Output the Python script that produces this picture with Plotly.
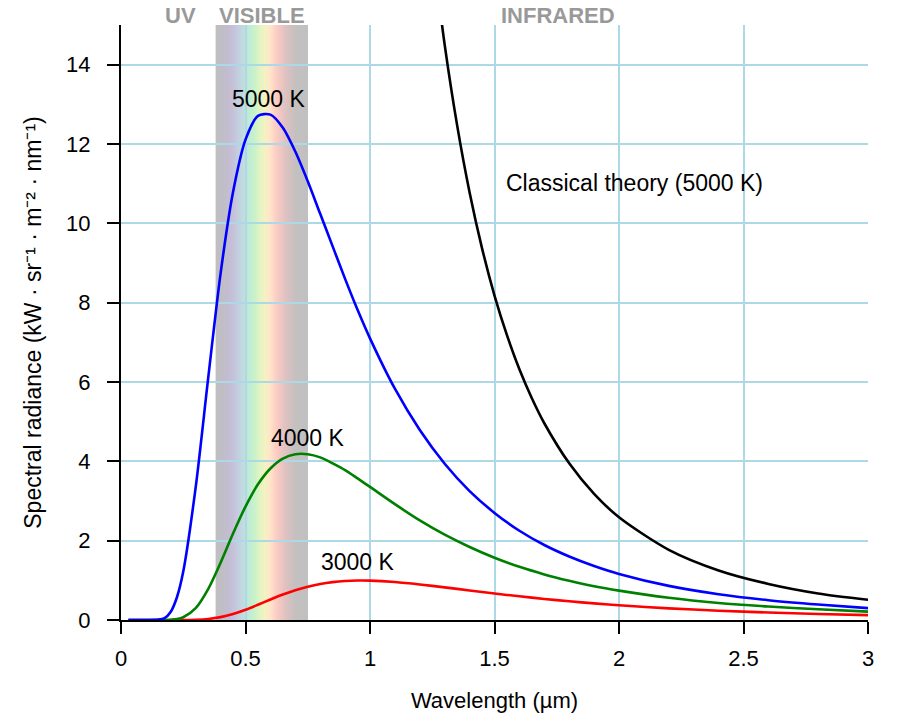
"""
Black-body spectral radiance vs wavelength, with the classical (Rayleigh-Jeans) curve
"""

import plotly.graph_objects as go

# wavelength samples (µm) shared by the three Planck curves
wavelength = [0.03, 0.1, 0.15, 0.175, 0.2, 0.225, 0.25, 0.3, 0.35, 0.4, 0.45, 0.5, 0.55, 0.6,
              0.65, 0.7, 0.75, 0.8, 0.85, 0.9, 0.95, 1.0, 1.1, 1.2, 1.3, 1.4, 1.5, 1.6, 1.7,
              1.8, 1.9, 2.0, 2.2, 2.4, 2.6, 2.8, 3.0]

# spectral radiance (kW / sr / m² / nm)
radiance_5000 = [0, 0, 0.01, 0.05, 0.21, 0.58, 1.22, 3.35, 6.09, 8.74, 10.79, 12.11, 12.71,
                 12.74, 12.41, 11.81, 11.06, 10.24, 9.42, 8.60, 7.82, 7.10, 5.83, 4.79, 3.94,
                 3.25, 2.70, 2.25, 1.89, 1.60, 1.36, 1.16, 0.86, 0.65, 0.50, 0.39, 0.30]
radiance_4000 = [0, 0, 0, 0, 0.006, 0.023, 0.069, 0.30, 0.78, 1.445, 2.18, 2.86, 3.42, 3.82,
                 4.07, 4.18, 4.18, 4.10, 3.95, 3.78, 3.57, 3.355, 2.92, 2.51, 2.15, 1.84, 1.57,
                 1.34, 1.15, 0.99, 0.85, 0.74, 0.56, 0.43, 0.34, 0.27, 0.21]
radiance_3000 = [0, 0, 0, 0, 0, 0, 0, 0.006, 0.026, 0.072, 0.152, 0.26, 0.386, 0.517, 0.642,
                 0.751, 0.839, 0.908, 0.955, 0.983, 0.995, 0.993, 0.957, 0.896, 0.823, 0.745,
                 0.668, 0.597, 0.531, 0.472, 0.419, 0.372, 0.294, 0.235, 0.188, 0.152, 0.124]

# classical theory at 5000 K (runs off the top of the plot)
wavelength_classical = [1.25, 1.3, 1.35, 1.4, 1.45, 1.5, 1.55, 1.6, 1.65, 1.7, 1.8, 1.9, 2.0,
                        2.2, 2.4, 2.6, 2.8, 3.0]
radiance_classical = [16.97, 14.50, 12.47, 10.78, 9.37, 8.18, 7.18, 6.32, 5.59, 4.96, 3.95,
                      3.18, 2.59, 1.77, 1.25, 0.91, 0.67, 0.51]

visible_band = [0.38, 0.75]
x_ticks = [0, 0.5, 1, 1.5, 2, 2.5, 3]
x_tick_text = ['0', '0.5', '1', '1.5', '2', '2.5', '3']
y_ticks = [0, 2, 4, 6, 8, 10, 12, 14]

# colour stops for the pale rainbow inside the visible band
band_stops = [
    (0.38, (191, 191, 191)),
    (0.415, (192, 190, 200)),
    (0.44, (198, 188, 216)),
    (0.48, (194, 212, 224)),
    (0.51, (192, 234, 216)),
    (0.535, (200, 242, 202)),
    (0.56, (228, 244, 194)),
    (0.58, (246, 242, 194)),
    (0.60, (255, 228, 202)),
    (0.625, (252, 204, 196)),
    (0.66, (224, 194, 192)),
    (0.70, (196, 192, 192)),
    (0.75, (192, 192, 192)),
]

FONT = 'Liberation Sans, Arial, sans-serif'


def band_colour(x):
    """colour of the visible band at wavelength x"""
    for (x0, c0), (x1, c1) in zip(band_stops[:-1], band_stops[1:]):
        if x0 <= x <= x1:
            t = (x - x0) / (x1 - x0)
            r, g, b = [round(a + (b_ - a) * t) for a, b_ in zip(c0, c1)]
            return 'rgb(%d,%d,%d)' % (r, g, b)
    return 'rgb(192,192,192)'


fig = go.Figure()

# visible band as thin overlapping slices below the gridlines
n_slices = 74
step = (visible_band[1] - visible_band[0]) / n_slices
for i in range(n_slices):
    x0 = visible_band[0] + i * step
    x1 = min(x0 + step * 3, visible_band[1])
    fig.add_shape(type='rect', xref='x', yref='y', x0=x0, x1=x1, y0=0, y1=15,
                  fillcolor=band_colour(x0 + step / 2), line_width=0, layer='below')

curves = [
    (radiance_3000, '#ff0000', '3000 K'),
    (radiance_4000, '#008000', '4000 K'),
    (radiance_5000, '#0000ff', '5000 K'),
]
for values, colour, name in curves:
    fig.add_trace(go.Scatter(x=wavelength, y=values, mode='lines', name=name,
                             line=dict(color=colour, width=2.6, shape='spline', smoothing=0.8)))

fig.add_trace(go.Scatter(x=wavelength_classical, y=radiance_classical, mode='lines',
                         name='Classical theory (5000 K)',
                         line=dict(color='black', width=2.6, shape='spline', smoothing=0.8)))

labels = [
    (0.596, 13.13, '5000 K'),
    (0.751, 4.59, '4000 K'),
    (0.952, 1.45, '3000 K'),
    (2.064, 11.01, 'Classical theory (5000 K)'),
]
for x, y, text in labels:
    fig.add_annotation(x=x, y=y, text=text, showarrow=False,
                       font=dict(family=FONT, size=23, color='black'))

for x, text in [(0.239, 'UV'), (0.565, 'VISIBLE'), (1.755, 'INFRARED')]:
    fig.add_annotation(x=x, xref='x', y=1, yref='paper', yshift=10, yanchor='middle',
                       text='<b>%s</b>' % text, showarrow=False,
                       font=dict(family=FONT, size=22, color='#999999'))

fig.update_layout(
    width=900, height=720,
    margin=dict(l=121, r=32, t=25, b=100),
    paper_bgcolor='white', plot_bgcolor='white',
    showlegend=False,
    font=dict(family=FONT, size=22, color='black'),
)
fig.update_xaxes(
    range=[0, 3], tickvals=x_ticks, ticktext=x_tick_text,
    showgrid=True, gridcolor='#add8e6', gridwidth=2, zeroline=False,
    showline=True, linecolor='black', linewidth=2,
    ticks='outside', ticklen=12, tickwidth=2, tickcolor='black', ticklabelstandoff=6,
    title=dict(text='Wavelength (µm)', standoff=22, font=dict(size=22)),
)
fig.update_yaxes(
    range=[0, 15], tickvals=y_ticks,
    showgrid=True, gridcolor='#add8e6', gridwidth=2, zeroline=False,
    showline=True, linecolor='black', linewidth=2,
    ticks='outside', ticklen=12, tickwidth=2, tickcolor='black', ticklabelstandoff=12,
    title=dict(text='Spectral radiance (kW · sr⁻¹ · m⁻² · nm⁻¹)', standoff=18,
               font=dict(size=23)),
)

# drop the page's default body margin so the figure sits at the window corner
fig.write_html('out.html', config={'displayModeBar': False},
               post_script="document.body.style.margin = '0';")
